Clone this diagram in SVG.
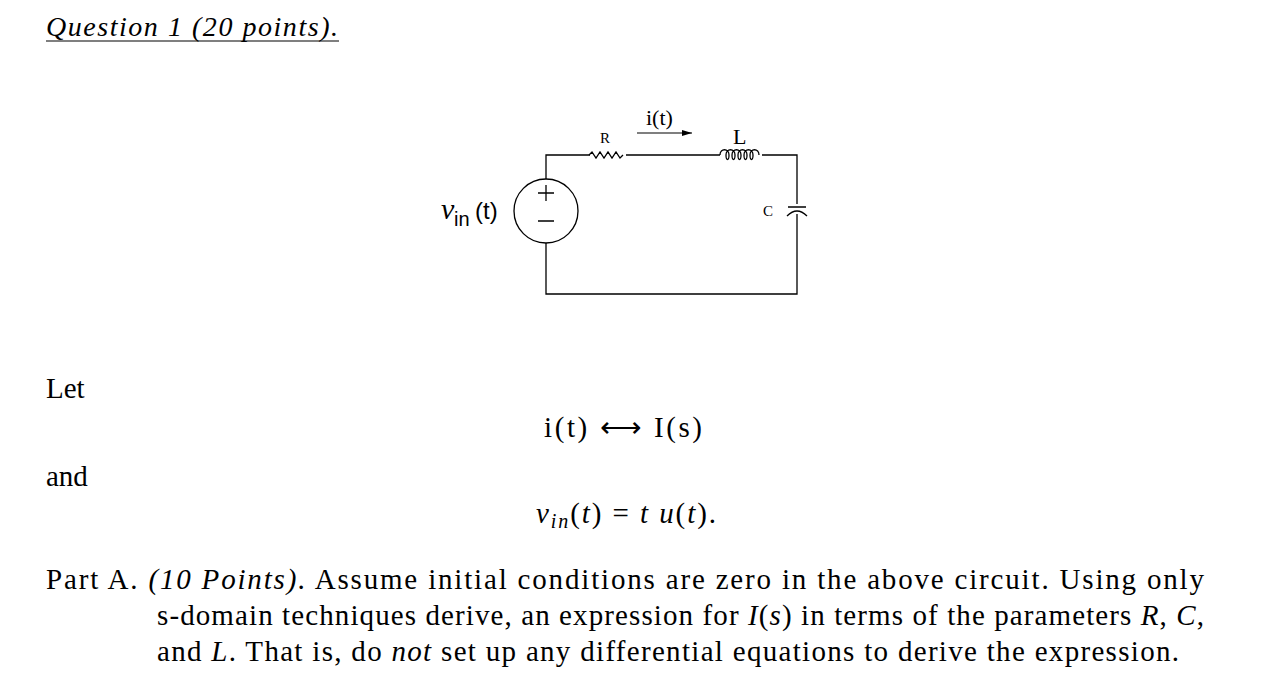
<svg xmlns="http://www.w3.org/2000/svg" width="1275" height="681" viewBox="0 0 1275 681">
<style>
.w{fill:none;stroke:#000;stroke-width:1.3}
.t{font-family:"Liberation Serif",serif;fill:#000}
.s{font-family:"Liberation Sans",sans-serif;fill:#000}
</style>
<defs><marker id="a" markerWidth="10" markerHeight="6" refX="10" refY="3" orient="auto" markerUnits="userSpaceOnUse"><path d="M0,0 L10,3 L0,6 z"/></marker></defs>
<rect width="1275" height="681" fill="#fff"/>
<text class="t" x="46" y="36" font-size="28" font-style="italic" textLength="292" lengthAdjust="spacing">Question 1 (20 points).</text>
<line x1="46" y1="41" x2="339" y2="41" stroke="#000" stroke-width="1.2"/>
<g id="connectors">
<path class="w" d="M546,179 V155 H590 M626,155 H720 M762,155 H797 V204 M797,214 V294 H546 V243"/>
<line x1="637" y1="133" x2="692" y2="133" stroke="#000" stroke-width="1.2" marker-end="url(#a)"/>
</g>
<g id="source"><circle class="w" cx="546" cy="211" r="32"/>
<path class="w" d="M538,193 H554 M546,185 V201 M538,221 H554"/>
<text class="t" x="441" y="219" font-size="30" font-style="italic">v</text>
<text class="s" x="454" y="226" font-size="20">in</text><text class="s" x="475" y="219" font-size="24">(t)</text></g>
<g id="R"><path class="w" d="M589,155 l3,-3 4,6 4,-6 4,6 4,-6 4,6 4,-6 4,6 3,-3" stroke-width="1"/>
<text class="t" x="600" y="143" font-size="15">R</text></g>
<text class="t" x="646" y="125" font-size="22">i(t)</text>
<g id="L"><path class="w" stroke-width="1" d="M720,155 c0,-7 9,-7 9,0 c0,6 -3,6 -3,0 c0,-7 9,-7 9,0 c0,6 -3,6 -3,0 c0,-7 9,-7 9,0 c0,6 -3,6 -3,0 c0,-7 9,-7 9,0 c0,6 -3,6 -3,0 c0,-7 9,-7 9,0 c0,6 -3,6 -3,0 c0,-7 9,-7 9,0"/>
<text class="t" x="733" y="144" font-size="22">L</text></g>
<g id="C"><path class="w" d="M788,207 H806 M787,216 Q797,206 807,216"/>
<text class="t" x="763" y="216" font-size="15">C</text></g>
<g class="t" font-size="29">
<text x="46" y="398">Let</text>
<text x="544" y="437" textLength="158" lengthAdjust="spacing">i(t) ⟷ I(s)</text>
<text x="46" y="486">and</text>
<text x="536" y="523" textLength="180" lengthAdjust="spacing"><tspan font-style="italic">v</tspan><tspan font-size="20" font-style="italic" dy="5">in</tspan><tspan dy="-5">(<tspan font-style="italic">t</tspan>) = <tspan font-style="italic">t u</tspan>(<tspan font-style="italic">t</tspan>).</tspan></text>
<text x="46" y="589" textLength="1158" lengthAdjust="spacing">Part A. <tspan font-style="italic">(10 Points).</tspan> Assume initial conditions are zero in the above circuit. Using only</text>
<text x="157" y="625" textLength="1047" lengthAdjust="spacing">s-domain techniques derive, an expression for <tspan font-style="italic">I</tspan>(<tspan font-style="italic">s</tspan>) in terms of the parameters <tspan font-style="italic">R</tspan>, <tspan font-style="italic">C</tspan>,</text>
<text x="157" y="661" textLength="1022" lengthAdjust="spacing">and <tspan font-style="italic">L</tspan>. That is, do <tspan font-style="italic">not</tspan> set up any differential equations to derive the expression.</text>
</g>
</svg>
